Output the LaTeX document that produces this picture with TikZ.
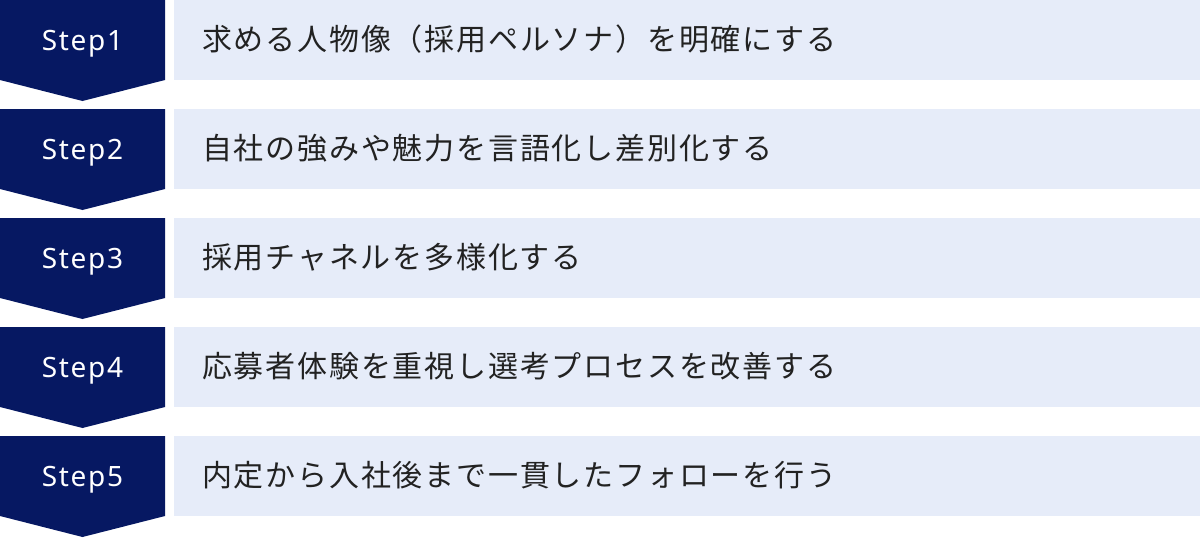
\documentclass[tikz,border=0pt]{standalone}
\usepackage{fontspec}
\setmainfont[LetterSpace=6]{Noto Sans}
\newfontfamily\jpfont[LetterSpace=6]{Noto Sans CJK JP}
\usepackage{tikz}
\definecolor{navy}{HTML}{061862}
\definecolor{paleblue}{HTML}{E6ECF9}
\definecolor{ink}{HTML}{222222}
\tikzset{
 steplabel/.style={text=white, anchor=base, inner sep=0pt, font=\fontsize{28}{34}\selectfont},
 stepbox/.style={fill=paleblue, anchor=north west, inner xsep=28pt, inner ysep=0pt,
  text height=50pt, text depth=30pt, text width=970pt, align=left, text=ink,
  font=\jpfont\fontsize{30}{36}\selectfont}
}
\newcommand{\stepitem}[3]{%
 \fill[navy] (0,#1) -- ++(165,0) -- ++(0,80) -- ++(-82.5,21) -- ++(-82.5,-21) -- cycle;%
 \node[steplabel] (s#2) at (82.5,{#1+50}) {Step#2};%
 \node[stepbox] (b#2) at (174,#1) {#3};%
}

\begin{document}
\begin{tikzpicture}[x=1pt, y=-1pt]
 \useasboundingbox (0,0) rectangle (1200,538);
 \stepitem{0}{1}{求める人物像（採用ペルソナ）を明確にする}
 \stepitem{109}{2}{自社の強みや魅力を言語化し差別化する}
 \stepitem{218}{3}{採用チャネルを多様化する}
 \stepitem{327}{4}{応募者体験を重視し選考プロセスを改善する}
 \stepitem{436}{5}{内定から入社後まで一貫したフォローを行う}
\end{tikzpicture}
\end{document}
